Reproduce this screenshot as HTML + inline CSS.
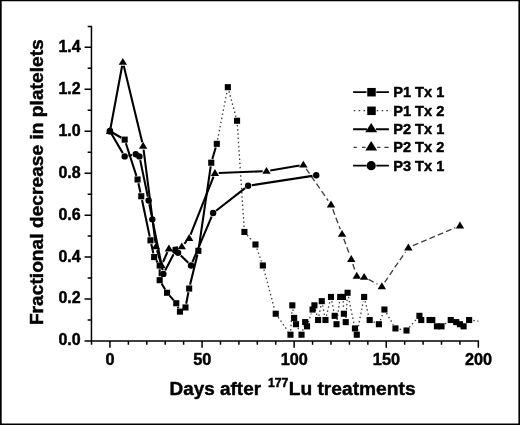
<!DOCTYPE html>
<html><head><meta charset="utf-8"><title>Figure</title>
<style>
html,body{margin:0;padding:0;background:#fff;}
body{width:520px;height:425px;position:relative;overflow:hidden;}
.t{font-family:"Liberation Sans",sans-serif;font-weight:bold;fill:#000;stroke:#000;stroke-width:0.45px;}
</style></head><body>
<svg width="520" height="425" viewBox="0 0 520 425" style="position:absolute;left:0;top:0">
<rect x="0" y="0" width="520" height="425" fill="#fff"/>
<path d="M0 0H520V425H0Z M1.7 1.3H518.4V423.4H1.7Z" fill="#000" fill-rule="evenodd"/>
<path d="M91.45 25.68V341.75M90.7 341.00H479.05M84.55 341.00H91.45M87.65 320.02H91.45M84.55 299.05H91.45M87.65 278.07H91.45M84.55 257.10H91.45M87.65 236.12H91.45M84.55 215.15H91.45M87.65 194.17H91.45M84.55 173.20H91.45M87.65 152.22H91.45M84.55 131.25H91.45M87.65 110.27H91.45M84.55 89.30H91.45M87.65 68.32H91.45M84.55 47.35H91.45M87.65 26.38H91.45M91.53 341.00V344.70M109.95 341.00V347.80M128.37 341.00V344.70M146.79 341.00V344.70M165.21 341.00V344.70M183.63 341.00V344.70M202.05 341.00V347.80M220.47 341.00V344.70M238.89 341.00V344.70M257.31 341.00V344.70M275.73 341.00V344.70M294.15 341.00V347.80M312.57 341.00V344.70M330.99 341.00V344.70M349.41 341.00V344.70M367.83 341.00V344.70M386.25 341.00V347.80M404.67 341.00V344.70M423.09 341.00V344.70M441.51 341.00V344.70M459.93 341.00V344.70M478.35 341.00V347.80" stroke="#000" stroke-width="1.5" fill="none"/>
<defs><clipPath id="c"><rect x="91" y="20" width="387.5" height="322"/></clipPath></defs>
<g clip-path="url(#c)">
<path d="M217.59 139.71L227.03 91.32M228.95 91.25L235.94 116.71M237.33 124.95L244.14 227.74M247.19 235.09L252.70 241.36M256.86 248.48L261.44 261.53M263.92 269.55L274.65 309.67M278.14 317.17L288.05 331.27M290.73 330.52L292.05 309.53M292.92 309.50L293.54 313.77M297.95 327.94L299.56 330.99M302.70 330.68L304.02 326.15M308.36 322.33L311.26 313.53M315.43 309.42L317.07 315.95M318.90 315.90L320.98 305.27M322.58 305.27L324.66 315.90M326.44 315.94L330.01 301.04M331.79 301.07L333.87 311.71M337.08 320.06L339.64 301.11M343.19 301.15L343.65 309.54M345.99 317.93L347.31 296.95M348.42 296.87L354.09 324.30M357.58 330.59L363.34 301.07M365.12 301.04L368.69 315.94M373.49 321.77L375.06 322.48M380.36 320.29L382.93 313.47M386.53 313.16L393.34 324.79M399.59 329.20L402.39 329.73M409.28 327.36L416.63 318.99M444.98 323.95L447.25 322.39M473.31 320.50L483.39 321.65" stroke="#404040" stroke-width="1.35" stroke-dasharray="1.5 2.7" fill="none"/>
<path d="M306.21 168.92L328.14 200.55M332.75 209.34L340.28 229.35M343.76 238.72L349.53 254.50M352.82 263.95L355.21 271.23M368.56 279.38L377.42 284.11M384.65 282.34L405.53 251.79M412.95 245.70L455.33 227.60" stroke="#404040" stroke-width="1.35" stroke-dasharray="5.8 3.2" fill="none"/>
<path d="M109.95 131.25L121.38 137.76M125.86 143.26L136.41 175.88M138.39 183.20L140.45 192.56M142.04 199.99L149.70 236.60M151.29 244.03L153.34 253.39M156.25 260.27L157.59 262.32M159.68 269.29L159.68 276.37M161.60 283.45L165.13 289.48M169.56 295.61L173.75 300.39M177.79 306.72L178.42 308.16M186.20 303.71L188.43 292.29M190.06 284.87L197.47 254.50M198.92 247.05L210.71 166.47M212.33 159.07L215.72 147.48" stroke="#000" stroke-width="2.1" fill="none"/>
<path d="M109.95 131.25L122.15 65.77M123.74 65.73L142.21 142.24M143.59 149.70L155.52 242.84M157.07 250.26L160.46 261.84M163.05 262.01L167.37 252.19M172.64 248.10L178.04 247.22M184.30 243.76L186.65 241.08M190.56 234.69L213.54 176.73M218.74 173.05L262.72 171.26M270.27 170.46L299.61 165.45" stroke="#000" stroke-width="2.1" fill="none"/>
<path d="M109.95 131.25L122.77 153.14M128.42 155.71L132.00 155.03M140.20 160.14L147.85 196.75M149.36 204.20L151.59 215.62M153.07 223.07L162.61 270.16M165.12 270.51L173.59 254.18M180.82 255.56L188.28 262.84M192.47 261.99L211.63 216.55M216.10 210.72L245.10 188.12M251.86 185.21L312.50 175.88" stroke="#000" stroke-width="2.1" fill="none"/>
</g>
<g fill="#000">
<rect x="121.64" y="136.59" width="6.1" height="6.1"/>
<rect x="134.53" y="176.44" width="6.1" height="6.1"/>
<rect x="138.21" y="193.22" width="6.1" height="6.1"/>
<rect x="147.42" y="237.27" width="6.1" height="6.1"/>
<rect x="151.11" y="254.05" width="6.1" height="6.1"/>
<rect x="156.63" y="262.44" width="6.1" height="6.1"/>
<rect x="156.63" y="277.12" width="6.1" height="6.1"/>
<rect x="164.00" y="289.71" width="6.1" height="6.1"/>
<rect x="173.21" y="300.19" width="6.1" height="6.1"/>
<rect x="176.90" y="308.58" width="6.1" height="6.1"/>
<rect x="182.42" y="304.39" width="6.1" height="6.1"/>
<rect x="186.11" y="285.51" width="6.1" height="6.1"/>
<rect x="195.32" y="247.76" width="6.1" height="6.1"/>
<rect x="208.21" y="159.66" width="6.1" height="6.1"/>
<rect x="213.74" y="140.78" width="6.1" height="6.1"/>
<rect x="224.79" y="84.15" width="6.1" height="6.1"/>
<rect x="234.00" y="117.71" width="6.1" height="6.1"/>
<rect x="241.37" y="228.88" width="6.1" height="6.1"/>
<rect x="252.42" y="241.46" width="6.1" height="6.1"/>
<rect x="259.79" y="262.44" width="6.1" height="6.1"/>
<rect x="272.68" y="310.68" width="6.1" height="6.1"/>
<rect x="287.42" y="331.66" width="6.1" height="6.1"/>
<rect x="289.26" y="302.29" width="6.1" height="6.1"/>
<rect x="291.10" y="314.88" width="6.1" height="6.1"/>
<rect x="292.94" y="321.17" width="6.1" height="6.1"/>
<rect x="298.47" y="331.66" width="6.1" height="6.1"/>
<rect x="302.15" y="319.07" width="6.1" height="6.1"/>
<rect x="303.99" y="323.27" width="6.1" height="6.1"/>
<rect x="309.52" y="306.49" width="6.1" height="6.1"/>
<rect x="311.36" y="302.29" width="6.1" height="6.1"/>
<rect x="315.05" y="316.97" width="6.1" height="6.1"/>
<rect x="318.73" y="298.10" width="6.1" height="6.1"/>
<rect x="322.41" y="316.97" width="6.1" height="6.1"/>
<rect x="327.94" y="293.90" width="6.1" height="6.1"/>
<rect x="331.62" y="312.78" width="6.1" height="6.1"/>
<rect x="333.47" y="321.17" width="6.1" height="6.1"/>
<rect x="337.15" y="293.90" width="6.1" height="6.1"/>
<rect x="339.91" y="293.90" width="6.1" height="6.1"/>
<rect x="340.83" y="310.68" width="6.1" height="6.1"/>
<rect x="342.68" y="319.07" width="6.1" height="6.1"/>
<rect x="344.52" y="289.71" width="6.1" height="6.1"/>
<rect x="351.89" y="325.37" width="6.1" height="6.1"/>
<rect x="353.73" y="331.66" width="6.1" height="6.1"/>
<rect x="361.10" y="293.90" width="6.1" height="6.1"/>
<rect x="366.62" y="316.97" width="6.1" height="6.1"/>
<rect x="375.83" y="321.17" width="6.1" height="6.1"/>
<rect x="381.36" y="306.49" width="6.1" height="6.1"/>
<rect x="392.41" y="325.37" width="6.1" height="6.1"/>
<rect x="403.46" y="327.46" width="6.1" height="6.1"/>
<rect x="416.36" y="312.78" width="6.1" height="6.1"/>
<rect x="418.20" y="316.97" width="6.1" height="6.1"/>
<rect x="426.49" y="316.97" width="6.1" height="6.1"/>
<rect x="429.25" y="316.97" width="6.1" height="6.1"/>
<rect x="433.86" y="323.27" width="6.1" height="6.1"/>
<rect x="438.46" y="323.27" width="6.1" height="6.1"/>
<rect x="447.67" y="316.97" width="6.1" height="6.1"/>
<rect x="453.20" y="319.07" width="6.1" height="6.1"/>
<rect x="456.88" y="321.17" width="6.1" height="6.1"/>
<rect x="460.56" y="323.27" width="6.1" height="6.1"/>
<rect x="466.09" y="316.97" width="6.1" height="6.1"/>
<rect x="106.85" y="128.15" width="6.2" height="6.2" rx="1.6"/>
<path d="M109.95 127.11L114.15 134.01L105.75 134.01Z"/>
<path d="M122.84 57.89L127.04 64.79L118.64 64.79Z"/>
<path d="M143.11 141.79L147.31 148.69L138.91 148.69Z"/>
<path d="M156.00 242.47L160.20 249.37L151.80 249.37Z"/>
<path d="M161.53 261.35L165.73 268.25L157.33 268.25Z"/>
<path d="M168.89 244.57L173.09 251.47L164.69 251.47Z"/>
<path d="M181.79 242.47L185.99 249.37L177.59 249.37Z"/>
<path d="M189.16 234.08L193.36 240.98L184.96 240.98Z"/>
<path d="M214.94 169.06L219.14 175.96L210.74 175.96Z"/>
<path d="M266.52 166.96L270.72 173.86L262.32 173.86Z"/>
<path d="M303.36 160.67L307.56 167.57L299.16 167.57Z"/>
<path d="M330.99 200.52L335.19 207.42L326.79 207.42Z"/>
<path d="M342.04 229.89L346.24 236.79L337.84 236.79Z"/>
<path d="M351.25 255.06L355.45 261.96L347.05 261.96Z"/>
<path d="M356.78 271.84L360.98 278.74L352.58 278.74Z"/>
<path d="M364.15 272.89L368.35 279.79L359.95 279.79Z"/>
<path d="M381.83 282.32L386.03 289.22L377.63 289.22Z"/>
<path d="M408.35 243.52L412.55 250.42L404.15 250.42Z"/>
<path d="M459.93 221.50L464.13 228.40L455.73 228.40Z"/>
<circle cx="109.95" cy="131.25" r="3.2"/>
<circle cx="124.69" cy="156.42" r="3.2"/>
<circle cx="135.74" cy="154.32" r="3.2"/>
<circle cx="139.42" cy="156.42" r="3.2"/>
<circle cx="148.63" cy="200.47" r="3.2"/>
<circle cx="152.32" cy="219.35" r="3.2"/>
<circle cx="163.37" cy="273.88" r="3.2"/>
<circle cx="175.34" cy="250.81" r="3.2"/>
<circle cx="178.10" cy="252.91" r="3.2"/>
<circle cx="191.00" cy="265.49" r="3.2"/>
<circle cx="213.10" cy="213.05" r="3.2"/>
<circle cx="248.10" cy="185.78" r="3.2"/>
<circle cx="316.25" cy="175.30" r="3.2"/>
</g>
<path d="M353.1 92.1H366.5M376.29999999999995 92.1H388.9" stroke="#000" stroke-width="1.9"/>
<rect x="367.25" y="87.95" width="8.5" height="8.5"/>
<text x="393.2" y="97.20" font-size="14.6" class="t">P1 Tx 1</text>
<path d="M353.7 110.7h1.6M358.59999999999997 110.7h1.6M363.5 110.7h1.6M376.7 110.7h1.6M381.59999999999997 110.7h1.6M386.3 110.7h1.6" stroke="#3a3a3a" stroke-width="1.3"/>
<rect x="367.25" y="106.55" width="8.5" height="8.5"/>
<text x="393.2" y="115.80" font-size="14.6" class="t">P1 Tx 2</text>
<path d="M353.1 129.2H366.9M375.9 129.2H388.9" stroke="#000" stroke-width="1.9"/>
<path d="M371.20 122.93L377.10 132.33L365.30 132.33Z"/>
<text x="393.2" y="134.30" font-size="14.6" class="t">P2 Tx 1</text>
<path d="M353.5 147.3H356.8M362 147.3H365.6M377.2 147.3H380.4M384.4 147.3H388.6" stroke="#3a3a3a" stroke-width="1.3"/>
<path d="M371.20 141.03L377.10 150.43L365.30 150.43Z"/>
<text x="393.2" y="152.40" font-size="14.6" class="t">P2 Tx 2</text>
<path d="M353.1 165.6H366.5M376.29999999999995 165.6H388.9" stroke="#000" stroke-width="1.9"/>
<circle cx="371.20" cy="165.70" r="4.6"/>
<text x="393.2" y="170.70" font-size="14.6" class="t">P3 Tx 1</text>
<text x="80.7" y="345.40" font-size="16" text-anchor="end" class="t">0.0</text>
<text x="80.7" y="303.45" font-size="16" text-anchor="end" class="t">0.2</text>
<text x="80.7" y="261.50" font-size="16" text-anchor="end" class="t">0.4</text>
<text x="80.7" y="219.55" font-size="16" text-anchor="end" class="t">0.6</text>
<text x="80.7" y="177.60" font-size="16" text-anchor="end" class="t">0.8</text>
<text x="80.7" y="135.65" font-size="16" text-anchor="end" class="t">1.0</text>
<text x="80.7" y="93.70" font-size="16" text-anchor="end" class="t">1.2</text>
<text x="80.7" y="51.75" font-size="16" text-anchor="end" class="t">1.4</text>
<text x="110.15" y="364.6" font-size="16.3" text-anchor="middle" class="t">0</text>
<text x="202.25" y="364.6" font-size="16.3" text-anchor="middle" class="t">50</text>
<text x="294.35" y="364.6" font-size="16.3" text-anchor="middle" class="t">100</text>
<text x="386.45" y="364.6" font-size="16.3" text-anchor="middle" class="t">150</text>
<text x="478.55" y="364.6" font-size="16.3" text-anchor="middle" class="t">200</text>
<text transform="translate(169.6 395.2) scale(0.985 1)" font-size="19.2" class="t" id="xt">Days after</text>
<text x="268.0" y="386.7" font-size="12.2" class="t">177</text>
<text x="288.7" y="395.2" font-size="19.2" class="t">Lu treatments</text>
<text transform="translate(42.8 325.1) rotate(-90)" font-size="19.2" class="t" id="yt">Fractional decrease in platelets</text>
</svg>
</body></html>
